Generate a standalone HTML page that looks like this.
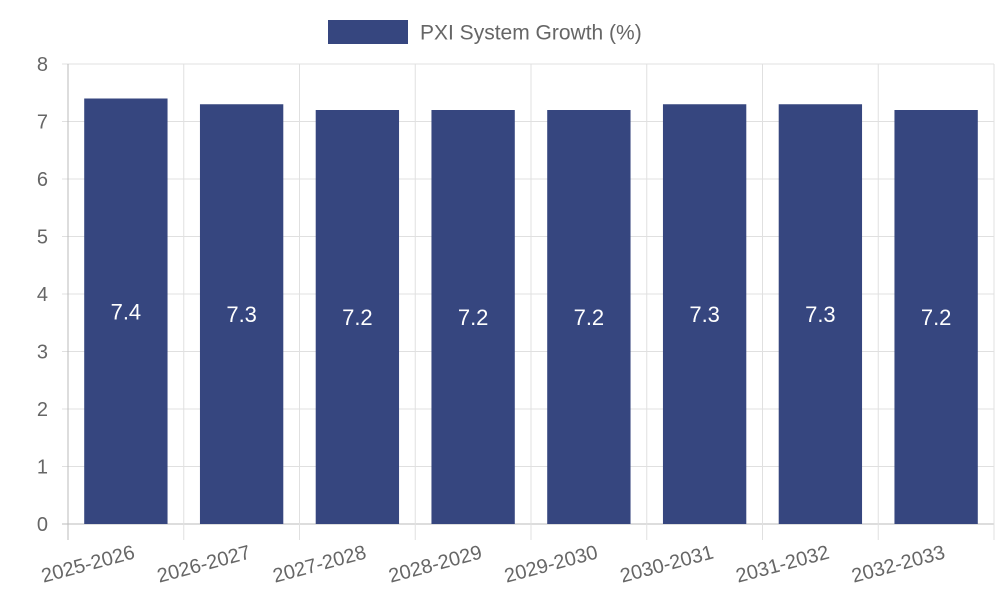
<!DOCTYPE html>
<html><head><meta charset="utf-8"><style>
body{margin:0;background:#fff;}
svg text{font-family:"Liberation Sans",sans-serif;}
</style></head><body>
<svg id="c" width="1000" height="600">
<g>
<rect x="328" y="20" width="80" height="24" fill="#36467f"></rect>
<text x="420" y="39.5" font-size="21" fill="#666">PXI System Growth (%)</text>
</g>
</svg>
<script>
const categories=["2025-2026","2026-2027","2027-2028","2028-2029","2029-2030","2030-2031","2031-2032","2032-2033"];
const values=[7.4,7.3,7.2,7.2,7.2,7.3,7.3,7.2];
const yTicks=[0,1,2,3,4,5,6,7,8];
const svg=document.getElementById('c');
const NS='http://www.w3.org/2000/svg';
const L=68,R=994,T=64,B=524,yMax=8;
const bw=(R-L)/categories.length;
const y=v=>B-(B-T)*v/yMax;
const x=i=>L+bw*i;
function mk(t,a,p){const e=document.createElementNS(NS,t);for(const k in a)e.setAttribute(k,a[k]);(p||svg).appendChild(e);return e;}
const grid=mk('g',{});


yTicks.forEach(t=>{
 const ln=mk('line',{x1:L-6,x2:R,y1:y(t),y2:y(t),stroke:t===0?'#bbb':'#e0e0e0','stroke-width':1},grid);
 
 
 const tx=mk('text',{x:L-20,y:y(t)+7,'font-size':20,fill:'#666','text-anchor':'end'});
 tx.textContent=t;
 
 
});
for(let i=0;i<=categories.length;i++){
 const ln=mk('line',{x1:x(i),x2:x(i),y1:T,y2:B+16,stroke:i===0?'#bbb':'#e0e0e0','stroke-width':1},grid);
 
 
}
categories.forEach((c,i)=>{
 const cx=x(i)+bw/2,w=bw*0.72;
 const r=mk('rect',{x:cx-w/2,y:y(values[i]),width:w,height:B-y(values[i]),fill:'#36467f'});
 
 
 const vt=mk('text',{x:cx,y:(y(values[i])+B)/2+8,'font-size':22,fill:'#fff','text-anchor':'middle'});
 vt.textContent=values[i];
 
 
 const xt=mk('text',{x:cx+10,y:B+34,'font-size':20,fill:'#666','text-anchor':'end',transform:`rotate(-15 ${cx+10} ${B+34})`});
 xt.textContent=c;
 
 
});
</script>
</body></html>
